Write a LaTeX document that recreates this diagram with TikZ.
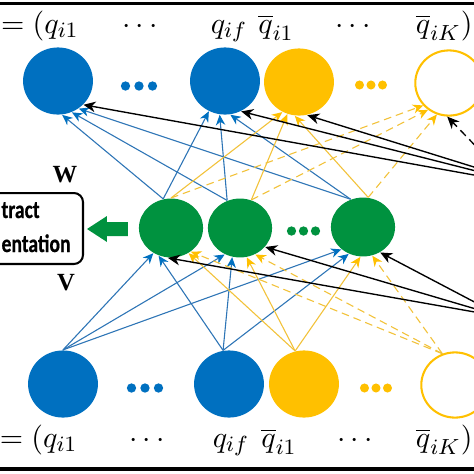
\documentclass[tikz,border=0pt]{standalone}
\usepackage{fontspec}
\usetikzlibrary{shapes.geometric,arrows.meta}
\newfontfamily\boxfont[FakeStretch=0.78,FakeBold=0.6]{Carlito}
\newfontfamily\serfont{Liberation Serif}
\definecolor{qblue}{HTML}{0070C0}
\definecolor{qyel}{HTML}{FFC000}
\definecolor{qgreen}{HTML}{00923F}
\definecolor{lblue}{HTML}{2E75B6}
\definecolor{lyel}{HTML}{F2C23A}
\tikzset{
  bigcirc/.style={ellipse, inner sep=0pt, minimum width=25.5pt, minimum height=24.5pt},
  bnode/.style={bigcirc, fill=qblue},
  ynode/.style={bigcirc, fill=qyel},
  hnode/.style={ellipse, inner sep=0pt, minimum width=24.6pt, minimum height=23.8pt, draw=qyel, line width=0.75pt, fill=white},
  gnode/.style={ellipse, inner sep=0pt, minimum width=23.4pt, minimum height=21.5pt, fill=qgreen},
  bl/.style={draw=lblue, line width=0.4pt, -{Stealth[length=3.8pt,width=3.4pt,inset=1.2pt,color=qblue]}},
  yl/.style={draw=lyel, line width=0.4pt, -{Stealth[length=3.8pt,width=3.4pt,inset=1.2pt,color=qyel]}},
  yld/.style={yl, dash pattern=on 2.8pt off 1.8pt},
  blk/.style={draw=black, line width=0.5pt, -{Stealth[length=4.4pt,width=3.9pt,inset=1.4pt,color=black]}},
  blkd/.style={blk, dash pattern=on 2.8pt off 1.8pt},
  lab/.style={inner sep=0pt, font=\fontsize{10.95}{13}\selectfont},
  boxtxt/.style={inner sep=0pt, font=\boxfont\bfseries\fontsize{9.2}{10}\selectfont},
  wv/.style={inner sep=0pt, font=\serfont\bfseries\fontsize{9}{10}\selectfont},
}
\begin{document}
\begin{tikzpicture}[x=0.365pt,y=-0.365pt]
\useasboundingbox (0,0) rectangle (474,474);
% frame lines
\draw[line width=1.1pt] (-10,3.5) -- (484,3.5);
\draw[line width=1.1pt] (-10,469) -- (484,469);

% top row
\node[bnode] (t1) at (58,81) {};
\node[bnode] (t2) at (225,81) {};
\node[ynode] (t3) at (299,82) {};
\node[hnode] (t4) at (449,83) {};
% middle row
\node[gnode] (g1) at (171,228) {};
\node[gnode] (g2) at (240,228) {};
\node[gnode] (g3) at (363,227) {};
% bottom row
\node[bnode] (b1) at (63,384) {};
\node[bnode] (b2) at (229,384) {};
\node[ynode] (b3) at (304,384) {};
\node[hnode] (b4) at (455,385) {};

% dots
\foreach \x in {125.5,139,152.5} \fill[qblue] (\x,86) circle[radius=1.7pt];
\foreach \x in {359.5,371,382.5} \fill[qyel] (\x,85) circle[radius=1.65pt];
\foreach \x in {291.5,303.5,315.5} \fill[qgreen] (\x,231) circle[radius=1.7pt];
\foreach \x in {131.5,145,158.5} \fill[qblue] (\x,388) circle[radius=1.7pt];
\foreach \x in {364.5,376,387.5} \fill[qyel] (\x,388) circle[radius=1.65pt];

% off-picture sources
\coordinate (srcT) at (535,186);
\coordinate (srcTD) at (492,163);
\coordinate (srcB) at (503,317);

% W connections
\draw[bl] (g1.105) -- (t1.-83);
\draw[bl] (g2.115) -- (t1.-66);
\draw[bl] (g3.114) -- (t1.-53);
\draw[bl] (g1.105) -- (t2.-118);
\draw[bl] (g2.115) -- (t2.-99);
\draw[bl] (g3.114) -- (t2.-81);
\draw[yl] (g1.90) -- (t3.-119);
\draw[yl] (g2.68) -- (t3.-110);
\draw[yl] (g3.80) -- (t3.-97);
\draw[yld] (g1.90) -- (t4.-139);
\draw[yld] (g2.68) -- (t4.-128);
\draw[yld] (g3.80) -- (t4.-111);
\draw[blk] (srcT) -- (t1.-43);
\draw[blk] (srcT) -- (t2.-62);
\draw[blk] (srcT) -- (t3.-76);
\draw[blkd] (srcTD) -- (t4.-93);

% V connections
\draw[bl] (b1.90) -- (g1.-125);
\draw[bl] (b1.90) -- (g2.-120);
\draw[bl] (b1.90) -- (g3.-134);
\draw[bl] (b2.100) -- (g1.-114);
\draw[bl] (b2.100) -- (g2.-105);
\draw[bl] (b2.100) -- (g3.-118);
\draw[yl] (b3.105) -- (g1.-55);
\draw[yl] (b3.105) -- (g2.-77);
\draw[yl] (b3.105) -- (g3.-95);
\draw[yld] (b4.112) -- (g1.-50);
\draw[yld] (b4.112) -- (g2.-60);
\draw[yld] (b4.112) -- (g3.-72);
\draw[blk] (srcB) -- (g1.-96);
\draw[blk] (srcB) -- (g2.-37);
\draw[blk] (srcB) -- (g3.-56);

% abstract representation box and arrow
\node[draw, line width=0.75pt, rounded corners=3.3pt, minimum width=58.4pt, minimum height=25.9pt, inner sep=0pt] (box) at (3,228.5) {};
\node[boxtxt, anchor=base west] (tx1) at (1,218) {tract};
\node[boxtxt, anchor=base west] (tx2) at (1,252) {entation};
\fill[qgreen] (128,222) -- (107,222) -- (107,216) -- (87,229) -- (107,242) -- (107,236) -- (128,236) -- cycle;

\node[wv] (W) at (65,175) {W};
\node[wv] (V) at (66,283) {V};

% top labels
\node[lab, anchor=base west] (lt1) at (0.5,33) {$=(q_{i1}$};
\node[lab, anchor=base] (lt2) at (140,33) {$\cdots$};
\node[lab, anchor=base] (lt3) at (229,33) {$q_{if}$};
\node[lab, anchor=base] (lt4) at (276,33) {$\overline{q}_{i1}$};
\node[lab, anchor=base] (lt5) at (353,33) {$\cdots$};
\node[lab, anchor=base east] (lt6) at (473,33) {$\overline{q}_{iK})$};
% bottom labels
\node[lab, anchor=base east] (lb1) at (78,447) {$=(q_{i1}$};
\node[lab, anchor=base] (lb2) at (147,447) {$\cdots$};
\node[lab, anchor=base] (lb3) at (231,447) {$q_{if}$};
\node[lab, anchor=base] (lb4) at (279,447) {$\overline{q}_{i1}$};
\node[lab, anchor=base] (lb5) at (355,447) {$\cdots$};
\node[lab, anchor=base east] (lb6) at (473,447) {$\overline{q}_{iK})$};
\end{tikzpicture}
\end{document}
